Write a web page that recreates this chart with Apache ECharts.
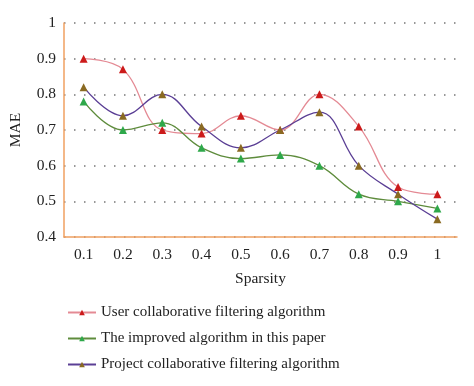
<!DOCTYPE html>
<html><head><meta charset="utf-8">
<script src="https://cdn.jsdelivr.net/npm/echarts@6/dist/echarts.min.js"></script>
<style>html,body{margin:0;padding:0;background:#fff}#c{width:474px;height:386px}</style>
</head><body><div id="c"></div>
<script>
const categories = ['0.1','0.2','0.3','0.4','0.5','0.6','0.7','0.8','0.9','1'];
const userCF = [0.90, 0.87, 0.70, 0.69, 0.74, 0.70, 0.80, 0.71, 0.54, 0.52];
const improved = [0.78, 0.70, 0.72, 0.65, 0.62, 0.63, 0.60, 0.52, 0.50, 0.48];
const projectCF = [0.82, 0.74, 0.80, 0.71, 0.65, 0.70, 0.75, 0.60, 0.52, 0.45];
const names = ['User collaborative filtering algorithm','The improved algorithm in this paper','Project collaborative filtering algorithm'];
const font = '"Liberation Serif", "DejaVu Serif", serif';
const chart = echarts.init(document.getElementById('c'));
function mk(name, data, lineColor, markColor){
  return {name, type:'line', data, smooth:0.4, symbol:'triangle', symbolSize:8,
    lineStyle:{color:lineColor, width:1.3}, itemStyle:{color:markColor}, color:lineColor};
}
chart.setOption({
  animation:false,
  textStyle:{fontFamily:font},
  grid:{left:64, right:17, top:23, bottom:149},
  xAxis:{type:'category', data:categories, boundaryGap:true,
    name:'Sparsity', nameLocation:'middle', nameGap:34,
    nameTextStyle:{fontFamily:font, fontSize:15.5, color:'#222'},
    axisLine:{lineStyle:{color:'#f0a060', width:1.5}}, axisTick:{show:false},
    axisLabel:{fontFamily:font, fontSize:15.5, color:'#222', margin:10}},
  yAxis:{type:'value', min:0.4, max:1, interval:0.1,
    name:'MAE', nameLocation:'middle', nameGap:40,
    nameTextStyle:{fontFamily:font, fontSize:15.5, color:'#222'},
    axisLine:{show:true, lineStyle:{color:'#f0a060', width:1.5}}, axisTick:{show:false},
    axisLabel:{fontFamily:font, fontSize:15.5, color:'#222', margin:8,
      formatter:v=>String(Math.round(v*10)/10)},
    splitLine:{show:true, lineStyle:{color:'#777', type:[1.5,8.5], width:1.5}}},
  legend:{orient:'vertical', left:62, top:300, height:86, itemGap:11, itemWidth:28, itemHeight:7,
    textStyle:{fontFamily:font, fontSize:15, color:'#222'},
    data:names},
  series:[
    mk(names[0], userCF, '#e48a94', '#cc1a1a'),
    mk(names[1], improved, '#5e8c3c', '#2ea84a'),
    mk(names[2], projectCF, '#5b3f95', '#8a6a22')
  ]
});
</script></body></html>
